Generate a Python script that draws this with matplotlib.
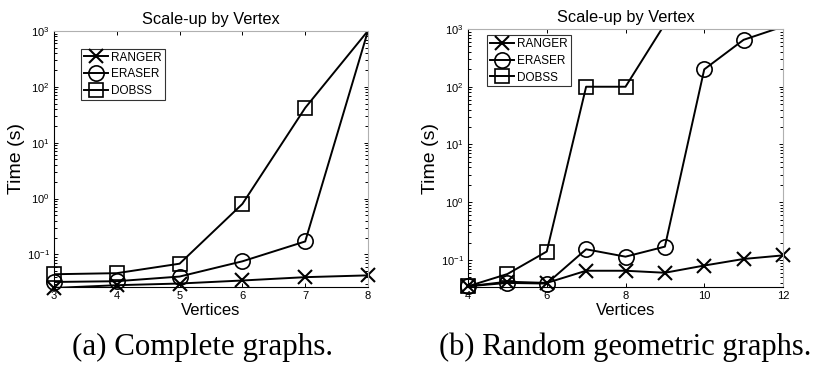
import matplotlib
matplotlib.use("Agg")
import matplotlib.pyplot as plt
from matplotlib.lines import Line2D
import numpy as np

plt.rcParams['font.family'] = ['Liberation Sans', 'DejaVu Sans']
plt.rcParams['mathtext.fontset'] = 'custom'
plt.rcParams['mathtext.rm'] = 'Liberation Sans'

# (a) Complete graphs
verts_a = [3, 4, 5, 6, 7, 8]
ranger_a = [0.025, 0.028, 0.030, 0.034, 0.039, 0.042]
eraser_a = [0.032, 0.033, 0.040, 0.075, 0.17, 1010]
dobss_a = [0.044, 0.046, 0.068, 0.80, 42, 1010]

# (b) Random geometric graphs
verts_b = [4, 5, 6, 7, 8, 9, 10, 11, 12]
ranger_b = [0.035, 0.042, 0.040, 0.065, 0.065, 0.060, 0.080, 0.104, 0.12]
eraser_b = [0.035, 0.040, 0.039, 0.153, 0.114, 0.17, 200, 650, 1100]
verts_b_dobss = [4, 5, 6, 7, 8, 9]
dobss_b = [0.035, 0.057, 0.14, 100, 100, 1220]

xticks_a = [3, 4, 5, 6, 7, 8]
xticks_b = [4, 6, 8, 10, 12]
labels = ['RANGER', 'ERASER', 'DOBSS']

fig = plt.figure(figsize=(8.25, 3.69), dpi=100)
ax1 = fig.add_axes([54/825, 1 - 287/369, (368 - 54)/825, (287 - 31)/369])
ax2 = fig.add_axes([468/825, 1 - 287/369, (783 - 468)/825, (287 - 29)/369])

lw = 1.4
mstyles = [dict(marker='x', ms=9.5, mew=1.5, mfc='none'),
           dict(marker='o', ms=11, mew=1.2, mfc='none'),
           dict(marker='s', ms=10, mew=1.2, mfc='none')]


def series(ax, x, y, st, ymax):
    ax.plot(x, y, color='black', lw=lw, clip_on=True)
    keep = [i for i, v in enumerate(y) if v <= ymax]
    ax.plot(x, y, color='black', ls='none', markevery=keep, clip_on=False, **st)


def style(ax, xt, xlim, ylim):
    ax.set_yscale('log')
    ax.set_xlim(*xlim)
    ax.set_ylim(*ylim)
    ax.set_xticks(xt)
    ax.set_yticks([1e-1, 1e0, 1e1, 1e2, 1e3])
    ax.tick_params(axis='both', which='both', direction='in', top=True, right=True,
                   labelsize=8, length=3, width=0.7, pad=3)
    ax.tick_params(axis='y', which='minor', length=2)
    for s in ['top', 'right']:
        ax.spines[s].set_color('#b0b0b0')
    for s in ['left', 'bottom']:
        ax.spines[s].set_color('black')
    for s in ax.spines.values():
        s.set_linewidth(0.8)
    ax.set_title('Scale-up by Vertex', fontsize=11.8, pad=5)
    ax.set_xlabel('Vertices', fontsize=12, labelpad=1)
    ax.set_ylabel('Time (s)', fontsize=14, labelpad=1)


for y, st in zip([ranger_a, eraser_a, dobss_a], mstyles):
    series(ax1, verts_a, y, st, 1000)
style(ax1, xticks_a, (3, 8), (0.026, 1000))

for x, y, st in zip([verts_b, verts_b, verts_b_dobss], [ranger_b, eraser_b, dobss_b], mstyles):
    series(ax2, x, y, st, 1000)
style(ax2, xticks_b, (4, 12), (0.034, 1000))

handles = [Line2D([], [], color='black', lw=lw, **st) for st in mstyles]
for ax, loc in [(ax1, (0.075, 0.945)), (ax2, (0.05, 0.99))]:
    leg = ax.legend(handles, labels, loc='upper left', bbox_to_anchor=loc, fontsize=8.5,
                    frameon=True, fancybox=False, edgecolor='black', handlelength=2.0,
                    borderpad=0.25, labelspacing=0.4, handletextpad=0.3, borderaxespad=0.3)
    leg.get_frame().set_linewidth(0.8)

fig.text(203/825, 1 - 347/369, '(a) Complete graphs.', fontsize=22.3, family='Liberation Serif',
         ha='center', va='center')
fig.text(625/825, 1 - 347/369, '(b) Random geometric graphs.', fontsize=22.0, family='Liberation Serif',
         ha='center', va='center')

fig.savefig('out.png', dpi=100)
